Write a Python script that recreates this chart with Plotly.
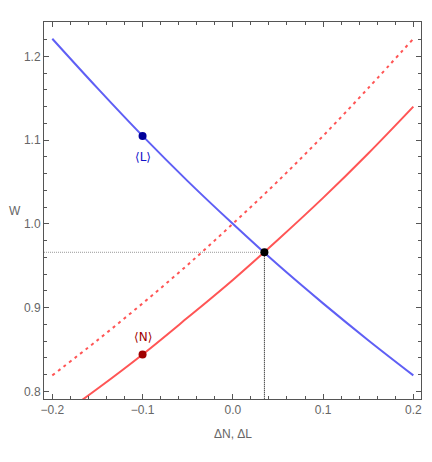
import plotly.graph_objects as go

# Data
x_vals = [-0.2, -0.15, -0.1, -0.05, 0.0, 0.05, 0.1, 0.15, 0.2]
w_L = [1.221, 1.162, 1.105, 1.051, 1.000, 0.951, 0.905, 0.861, 0.819]
w_N = [0.764, 0.803, 0.844, 0.888, 0.933, 0.981, 1.031, 1.084, 1.140]
w_N_dashed = [0.819, 0.861, 0.905, 0.951, 1.000, 1.051, 1.105, 1.162, 1.221]

L_point = (-0.1, 1.105)
N_point = (-0.1, 0.844)
eq_x, eq_w = 0.035, 0.966

x_range = [-0.2092, 0.2085]
y_range = [0.7908, 1.241]

x_ticks = [-0.2, -0.1, 0.0, 0.1, 0.2]
x_ticklabels = ["\u22120.2", "\u22120.1", "0.0", "0.1", "0.2"]
y_ticks = [0.8, 0.9, 1.0, 1.1, 1.2]
y_ticklabels = ["0.8", "0.9", "1.0", "1.1", "1.2"]

BLUE = "#5F5FF5"
RED = "#FF5555"
FONT = "Liberation Sans"
GRAY = "#666666"

fig = go.Figure()

# guide lines
fig.add_trace(go.Scatter(x=[x_range[0], eq_x], y=[eq_w, eq_w], mode="lines",
                         line=dict(color="#999999", width=1, dash="1px,1px"),
                         hoverinfo="skip", showlegend=False))
fig.add_trace(go.Scatter(x=[eq_x, eq_x], y=[eq_w, y_range[0]], mode="lines",
                         line=dict(color="#000000", width=1, dash="1px,1px"),
                         hoverinfo="skip", showlegend=False))

fig.add_trace(go.Scatter(x=x_vals, y=w_N_dashed, mode="lines", line_shape="spline",
                         line=dict(color=RED, width=2, dash="3px,4px"), showlegend=False))
fig.add_trace(go.Scatter(x=x_vals, y=w_N, mode="lines", line_shape="spline",
                         line=dict(color=RED, width=2), showlegend=False))
fig.add_trace(go.Scatter(x=x_vals, y=w_L, mode="lines", line_shape="spline",
                         line=dict(color=BLUE, width=2), showlegend=False))

fig.add_trace(go.Scatter(x=[L_point[0]], y=[L_point[1]], mode="markers",
                         marker=dict(color="#00009A", size=8), showlegend=False))
fig.add_trace(go.Scatter(x=[N_point[0]], y=[N_point[1]], mode="markers",
                         marker=dict(color="#A00000", size=8), showlegend=False))
fig.add_trace(go.Scatter(x=[eq_x], y=[eq_w], mode="markers",
                         marker=dict(color="#000000", size=8), showlegend=False))

fig.add_annotation(x=L_point[0], y=L_point[1], text="\u27e8L\u27e9", showarrow=False,
                   yshift=-21, font=dict(family="DejaVu Sans", size=12, color="#1010C8"))
fig.add_annotation(x=N_point[0], y=N_point[1], text="\u27e8N\u27e9", showarrow=False,
                   yshift=17, font=dict(family="DejaVu Sans", size=12, color="#A00000"))

fig.add_annotation(xref="paper", yref="paper", x=-0.077, y=0.5, text="W",
                   showarrow=False, xanchor="center", yanchor="middle",
                   font=dict(family=FONT, size=12, color=GRAY))
fig.add_annotation(xref="paper", yref="paper", x=0.5, y=-0.068, text="\u0394N, \u0394L",
                   showarrow=False, xanchor="center", yanchor="top",
                   font=dict(family=FONT, size=12, color=GRAY))

axis_common = dict(showgrid=False, zeroline=False, showline=True, linecolor="#555555",
                   linewidth=1, mirror="ticks", ticks="inside", ticklen=5, tickcolor="#555555",
                   automargin=False,
                   tickfont=dict(family=FONT, size=12, color=GRAY))

fig.update_xaxes(range=x_range, tickvals=x_ticks, ticktext=x_ticklabels,
                 minor=dict(dtick=0.02, tick0=0, ticks="inside", ticklen=3, tickcolor="#555555"),
                 **axis_common)
fig.update_yaxes(range=y_range, tickvals=y_ticks, ticktext=y_ticklabels,
                 minor=dict(dtick=0.02, tick0=0, ticks="inside", ticklen=3, tickcolor="#555555"),
                 **axis_common)

fig.update_layout(width=432, height=462, margin=dict(l=44, r=11, t=22, b=63),
                  plot_bgcolor="white", paper_bgcolor="white", showlegend=False)

fig.write_html("out.html", config={"displayModeBar": False},
               post_script="document.body.style.margin='0';document.body.style.overflow='hidden';")
